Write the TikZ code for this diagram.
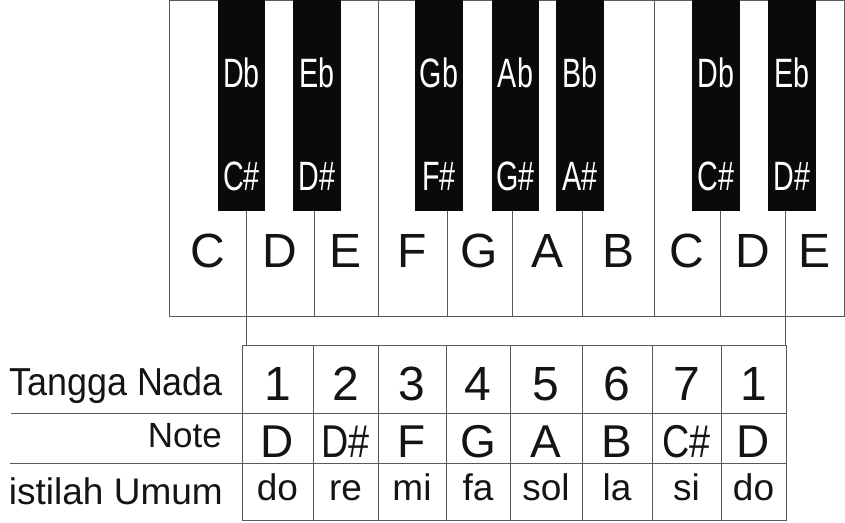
\documentclass[tikz,border=0pt]{standalone}
\usepackage{fontspec}
\setmainfont{Liberation Sans}
\newfontfamily\narrowfont[FakeStretch=0.7]{Liberation Sans}
\newfontfamily\semifont[FakeStretch=0.82]{Liberation Sans}
\newfontfamily\labelfont[FakeStretch=0.92]{Liberation Sans}

\begin{document}
\begin{tikzpicture}[x=1pt, y=-1pt,
  grid/.style = {draw=black!65, line width=0.8pt},
  blackkey/.style = {fill=black!96},
  whitelabel/.style = {anchor=base, text=black!92,
    font=\fontsize{48}{48}\selectfont},
  blacklabel/.style = {anchor=base, text=white,
    font=\narrowfont\fontsize{41}{41}\selectfont},
  digit/.style = {anchor=base, text=black!92,
    font=\fontsize{48}{48}\selectfont},
  notecell/.style = {anchor=base, text=black!92,
    font=\fontsize{46}{46}\selectfont},
  solcell/.style = {anchor=base, text=black!92,
    font=\fontsize{37}{37}\selectfont},
  rowlabel/.style = {anchor=base east, inner sep=0pt, text=black!92,
    font=\fontsize{36}{36}\selectfont}]
  \useasboundingbox (0,0) rectangle (845,522);

  % keyboard
  \draw[grid] (169,0) rectangle (844,316);
  \foreach \x in {246,314,378,447,512,582,654,720,785}
    \draw[grid] (\x,0) -- (\x,316);
  \foreach \l/\r/\n in {169/246/C, 246/314/D, 314/378/E, 378/447/F,
      447/512/G, 512/582/A, 582/654/B, 654/720/C, 720/785/D, 785/844/E}
    \node[whitelabel] (white\l) at ({(\l+\r)/2},267) {\n};
  \foreach \l/\r/\fl/\sh [count=\i] in {218/265/Db/C\#, 293/341/Eb/D\#,
      415/463/Gb/F\#, 492/539/Ab/G\#, 556/604/Bb/A\#,
      692/740/Db/C\#, 768/816/Eb/D\#} {
    \fill[blackkey] (\l,0) rectangle (\r,211);
    \node[blacklabel] (flat\i) at ({(\l+\r)/2},87) {\fl};
    \node[blacklabel] (sharp\i) at ({(\l+\r)/2},190) {\sh};
  }

  % bracket down to the table
  \coordinate (keyD) at (246,316);
  \coordinate (tableD) at (246,345);
  \coordinate (keyE) at (785,316);
  \coordinate (tableE) at (785,345);
  \draw[grid] (keyD) -- (tableD);
  \draw[grid] (keyE) -- (tableE);

  % table
  \draw[grid] (242,345) rectangle (786,520);
  \draw[grid] (11,413) -- (786,413);
  \draw[grid] (10,463) -- (786,463);
  \foreach \x in {313,378,446,510,582,652,721}
    \draw[grid] (\x,345) -- (\x,520);

  \node[rowlabel, font=\labelfont\fontsize{39}{39}\selectfont] (tangga) at (223,395) {Tangga Nada};
  \node[rowlabel, font=\fontsize{35}{35}\selectfont] (note) at (222,447) {Note};
  \node[rowlabel, font=\fontsize{37}{37}\selectfont] (istilah) at (223,504) {istilah Umum};

  \foreach \c/\d/\n/\s [count=\i] in {277.5/1/D/do, 345.5/2/{\semifont D\#}/re,
      412/3/F/mi, 478/4/G/fa, 546/5/A/sol, 617/6/B/la,
      686.5/7/{\semifont C\#}/si, 753.5/1/D/do} {
    \node[digit] (num\i) at (\c,400) {\d};
    \node[notecell] (tone\i) at (\c,457) {\n};
    \node[solcell] (sol\i) at (\c,500) {\s};
  }
\end{tikzpicture}
\end{document}
